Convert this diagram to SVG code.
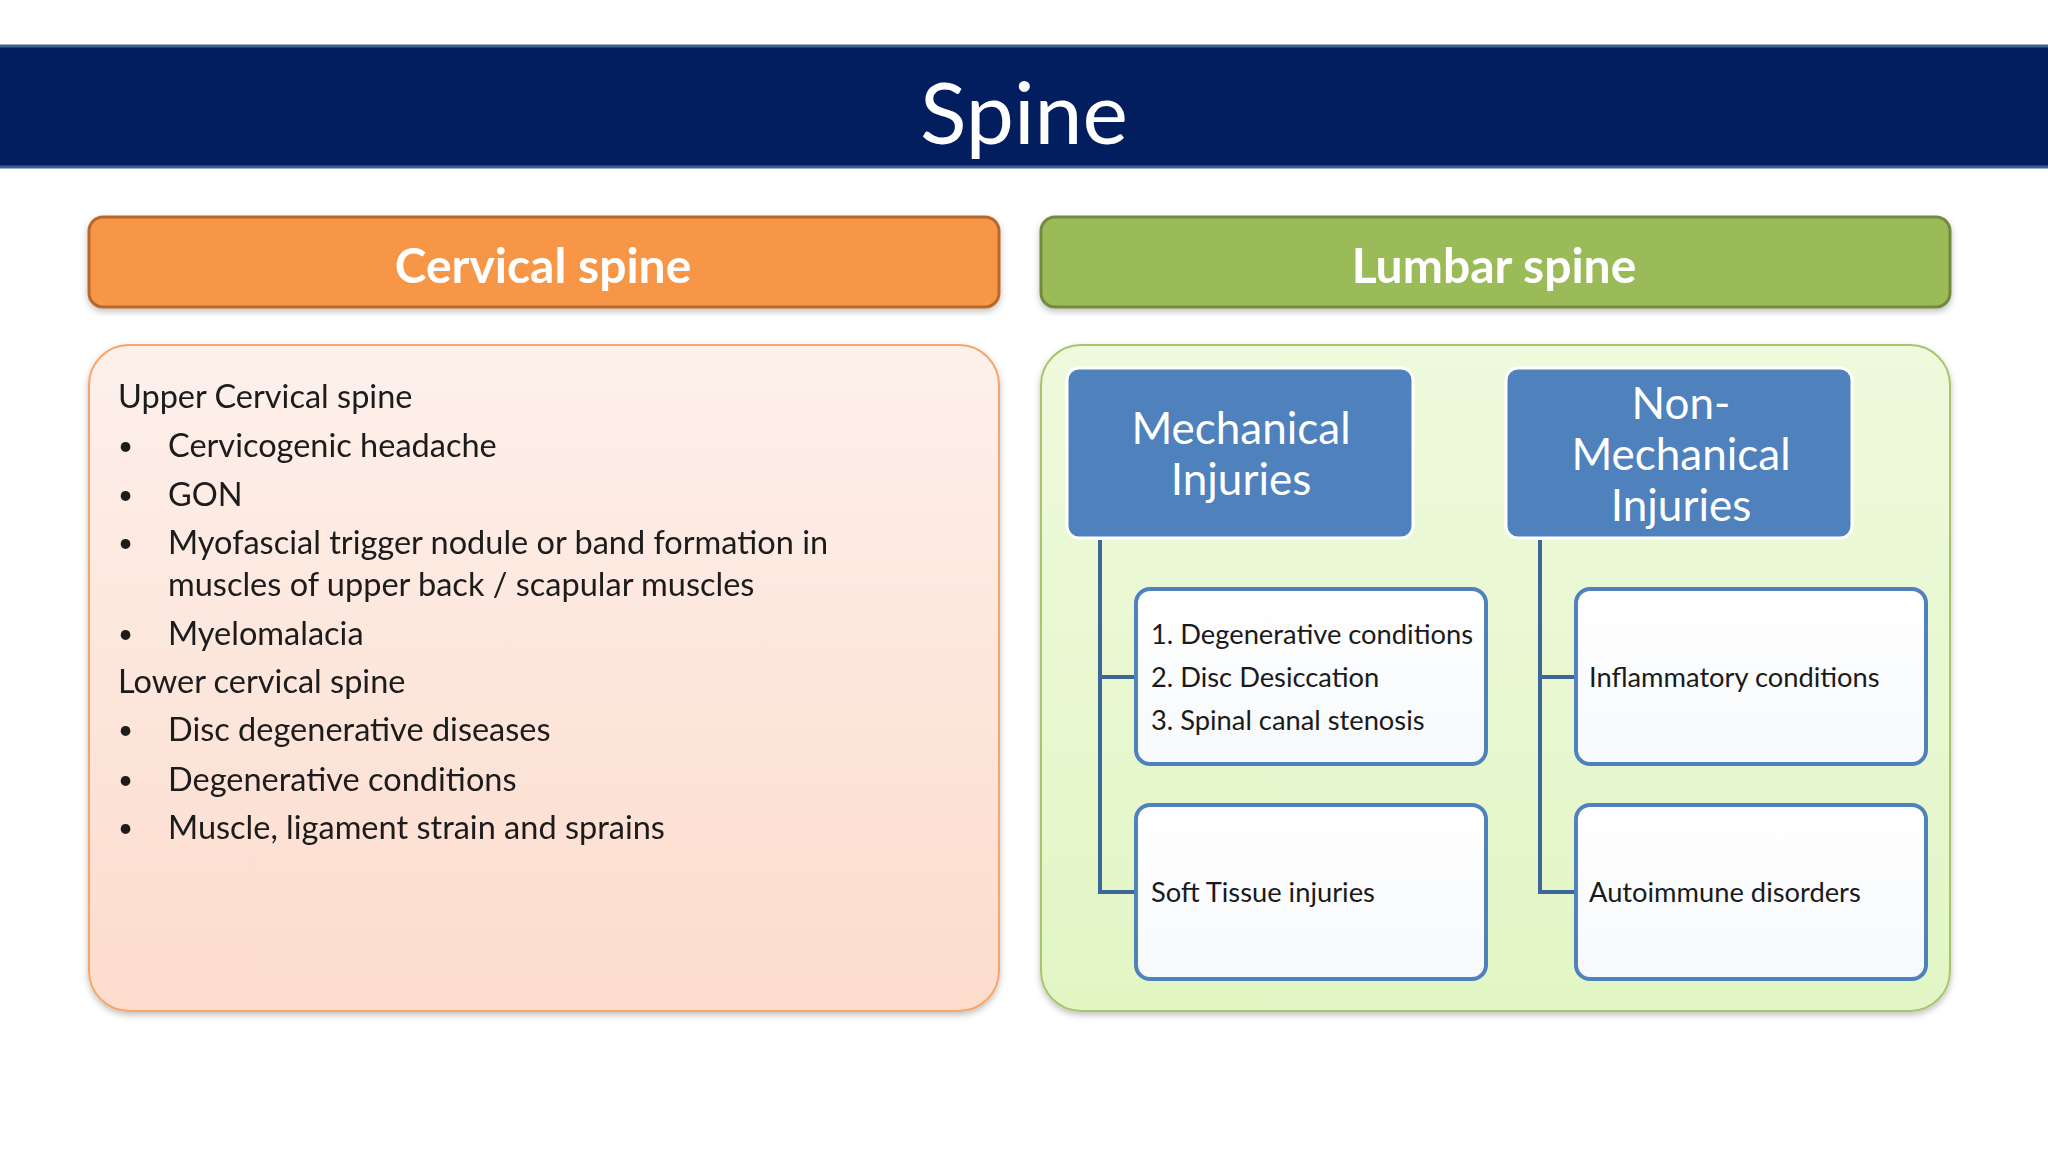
<svg xmlns="http://www.w3.org/2000/svg" width="2048" height="1152" viewBox="0 0 2048 1152">
<defs>
<linearGradient id="gCerv" x1="0" y1="0" x2="0" y2="1"><stop offset="0" stop-color="#fdf0eb"/><stop offset="1" stop-color="#fcdccc"/></linearGradient>
<linearGradient id="gLumb" x1="0" y1="0" x2="0" y2="1"><stop offset="0" stop-color="#eff9dd"/><stop offset="1" stop-color="#e2f6c4"/></linearGradient>
<linearGradient id="gChild" x1="0" y1="0" x2="0" y2="1"><stop offset="0" stop-color="#ffffff"/><stop offset="1" stop-color="#f7f9fb"/></linearGradient>
<filter id="sh" x="-5%" y="-5%" width="110%" height="115%"><feDropShadow dx="0" dy="3" stdDeviation="3" flood-color="#000" flood-opacity="0.25"/></filter>
<style>
.t{font-family:Lato,"Liberation Sans",sans-serif;}
.hdr{font-size:48px;font-weight:bold;fill:#ffffff;text-anchor:middle;}
.li{font-size:32.5px;fill:#1a1a1a;}
.bu{font-size:26px;}
.cat{font-size:44px;fill:#ffffff;text-anchor:middle;}
.ch{font-size:27.3px;fill:#1a1a1a;}
.cat-box{fill:#4f81bd;stroke:#ffffff;stroke-width:3;}
.child{fill:url(#gChild);stroke:#4f81bd;stroke-width:4;}
.conn{fill:none;stroke:#3d6699;stroke-width:4;}
</style>
</defs>
<rect width="2048" height="1152" fill="#ffffff"/>
<g id="title">
<rect x="-2" y="46" width="2052" height="121" fill="#021e5f" stroke="#3c6090" stroke-width="3"/>
<text class="t" x="1024" y="144" font-size="86" fill="#ffffff" text-anchor="middle">Spine</text>
</g>
<g id="cervical-header" filter="url(#sh)">
<rect x="89" y="217" width="910" height="90" rx="14" fill="#f79646" stroke="#b8692c" stroke-width="3"/>
<text class="t hdr" x="543" y="283">Cervical spine</text>
</g>
<g id="lumbar-header" filter="url(#sh)">
<rect x="1041" y="217" width="909" height="90" rx="14" fill="#9bbb59" stroke="#728a3f" stroke-width="3"/>
<text class="t hdr" x="1494" y="283">Lumbar spine</text>
</g>
<g id="cervical-body" filter="url(#sh)">
<rect x="89" y="345" width="910" height="666" rx="40" fill="url(#gCerv)" stroke="#f7a56a" stroke-width="2"/>
<g class="t li">
<text x="118" y="408">Upper Cervical spine</text>
<text class="bu" x="118" y="455">•</text><text x="168" y="457">Cervicogenic headache</text>
<text class="bu" x="118" y="504">•</text><text x="168" y="506">GON</text>
<text class="bu" x="118" y="552">•</text><text x="168" y="554">Myofascial trigger nodule or band formation in</text>
<text x="168" y="596">muscles of upper back / scapular muscles</text>
<text class="bu" x="118" y="643">•</text><text x="168" y="645">Myelomalacia</text>
<text x="118" y="693">Lower cervical spine</text>
<text class="bu" x="118" y="739">•</text><text x="168" y="741">Disc degenerative diseases</text>
<text class="bu" x="118" y="789">•</text><text x="168" y="791">Degenerative conditions</text>
<text class="bu" x="118" y="837">•</text><text x="168" y="839">Muscle, ligament strain and sprains</text>
</g>
</g>
<g id="lumbar-body" filter="url(#sh)">
<rect x="1041" y="345" width="909" height="666" rx="40" fill="url(#gLumb)" stroke="#a8c56e" stroke-width="2"/>
</g>
<g id="connectors">
<path class="conn" d="M1100 540 V892 H1136 M1100 677 H1136"/>
<path class="conn" d="M1540 540 V892 H1576 M1540 677 H1576"/>
</g>
<g id="mechanical">
<rect class="cat-box" x="1067" y="368" width="346" height="170" rx="12"/>
<text class="t cat" x="1241" y="444">Mechanical</text>
<text class="t cat" x="1241" y="495">Injuries</text>
</g>
<g id="non-mechanical">
<rect class="cat-box" x="1506" y="368" width="346" height="170" rx="12"/>
<text class="t cat" x="1681" y="419">Non-</text>
<text class="t cat" x="1681" y="470">Mechanical</text>
<text class="t cat" x="1681" y="521">Injuries</text>
</g>
<g id="mech-degenerative">
<rect class="child" x="1136" y="589" width="350" height="175" rx="14"/>
<text class="t ch" x="1151" y="644">1. Degenerative conditions</text>
<text class="t ch" x="1151" y="687">2. Disc Desiccation</text>
<text class="t ch" x="1151" y="730">3. Spinal canal stenosis</text>
</g>
<g id="mech-soft-tissue">
<rect class="child" x="1136" y="805" width="350" height="174" rx="14"/>
<text class="t ch" x="1151" y="902">Soft Tissue injuries</text>
</g>
<g id="nonmech-inflammatory">
<rect class="child" x="1576" y="589" width="350" height="175" rx="14"/>
<text class="t ch" x="1589" y="687">Inflammatory conditions</text>
</g>
<g id="nonmech-autoimmune">
<rect class="child" x="1576" y="805" width="350" height="174" rx="14"/>
<text class="t ch" x="1589" y="902">Autoimmune disorders</text>
</g>
</svg>
